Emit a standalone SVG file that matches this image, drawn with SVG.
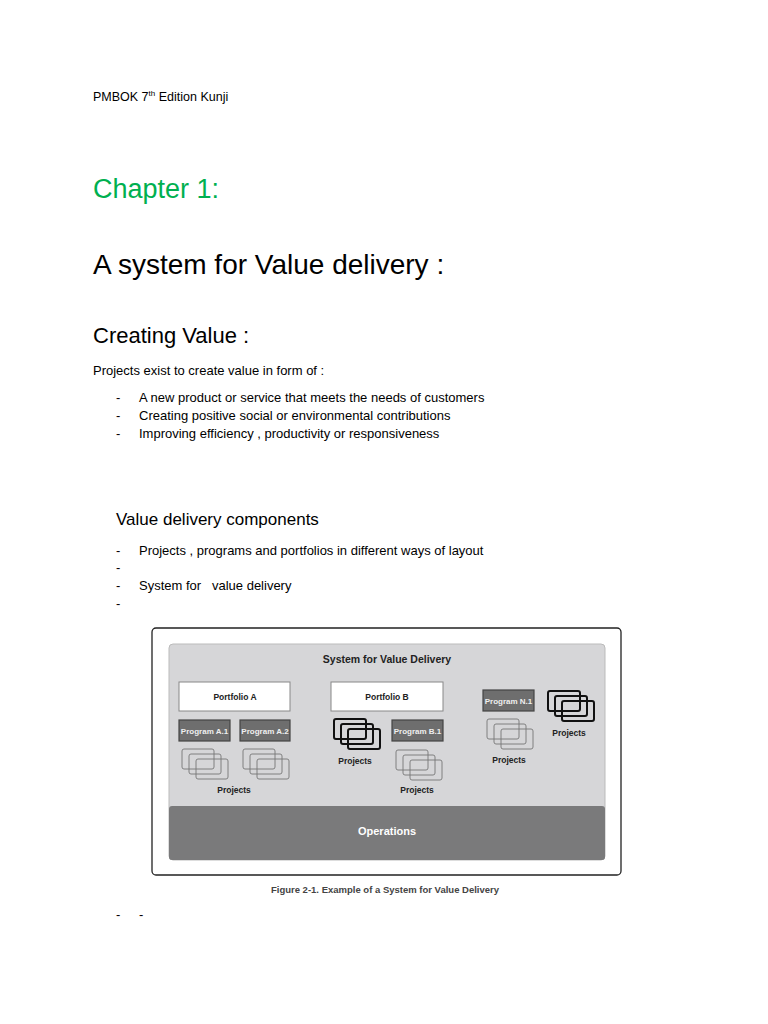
<svg xmlns="http://www.w3.org/2000/svg" xmlns:xlink="http://www.w3.org/1999/xlink" width="768" height="1024" viewBox="0 0 768 1024">
<style>
text{font-family:"Liberation Sans",Arial,sans-serif;fill:#000}
.b{font-size:13px}
.f{font-weight:bold;font-size:8.5px;fill:#222}
.pw{font-weight:bold;font-size:8px;fill:#eee}
.port{fill:#fff;stroke:#888;stroke-width:1}
.prog{fill:#6e6e6e;stroke:#444;stroke-width:1.2}
.thin{stroke:#777;stroke-width:0.9}
.bold{stroke:#111;stroke-width:2}
</style>
<defs>
<g id="stk" fill="none"><rect x="0" y="0" width="32" height="20" rx="2"/><rect x="7" y="5" width="32" height="20" rx="2"/><rect x="14" y="10" width="32" height="20" rx="2"/></g>
</defs>
<rect width="768" height="1024" fill="#fff"/>
<text x="93" y="101" style="font-size:12.5px">PMBOK 7<tspan dy="-5" font-size="8">th</tspan><tspan dy="5"> Edition Kunji</tspan></text>
<text x="93" y="198" style="font-size:27px;fill:#00b050">Chapter 1:</text>
<text x="93" y="274" style="font-size:28px">A system for Value delivery :</text>
<text x="93" y="343" style="font-size:22px">Creating Value :</text>
<text x="93" y="375" class="b">Projects exist to create value in form of :</text>
<text x="116" y="402" class="b">-</text><text x="139" y="402" class="b">A new product or service that meets the needs of customers</text>
<text x="116" y="420" class="b">-</text><text x="139" y="420" class="b">Creating positive social or environmental contributions</text>
<text x="116" y="438" class="b">-</text><text x="139" y="438" class="b">Improving efficiency , productivity or responsiveness</text>
<text x="116" y="525" style="font-size:17px">Value delivery components</text>
<text x="116" y="555" class="b">-</text><text x="139" y="555" class="b">Projects , programs and portfolios in different ways of layout</text>
<text x="116" y="572" class="b">-</text>
<text x="116" y="590" class="b">-</text><text x="139" y="590" class="b">System for &#160; value delivery</text>
<text x="116" y="608" class="b">-</text>
<text x="116" y="919" class="b">-</text><text x="139" y="919" class="b">-</text>

<g id="figure">
<rect x="152" y="628" width="469" height="247" rx="4" fill="#fff" stroke="#222" stroke-width="1.3"/>
<rect x="169" y="644" width="436" height="216" rx="4" fill="#d6d6d8" stroke="#bbb"/>
<text x="387" y="663" text-anchor="middle" style="font-weight:bold;font-size:10.5px;fill:#222">System for Value Delivery</text>
<g id="operations"><rect x="169" y="806" width="436" height="54" rx="3" fill="#7a7a7b"/>
<text x="387" y="835" text-anchor="middle" style="font-weight:bold;font-size:11px;fill:#fff">Operations</text></g>
<g id="portfolioA"><rect class="port" x="179" y="682" width="111" height="29"/><text class="f" x="235" y="700" text-anchor="middle">Portfolio A</text></g>
<g id="portfolioB"><rect class="port" x="331" y="682" width="112" height="29"/><text class="f" x="387" y="700" text-anchor="middle">Portfolio B</text></g>
<g id="progA1"><rect class="prog" x="179" y="720" width="51" height="21"/><text class="pw" x="204.5" y="734" text-anchor="middle">Program A.1</text></g>
<g id="progA2"><rect class="prog" x="240" y="720" width="50" height="21"/><text class="pw" x="265" y="734" text-anchor="middle">Program A.2</text></g>
<g id="progB1"><rect class="prog" x="392" y="720" width="51" height="21"/><text class="pw" x="417.5" y="734" text-anchor="middle">Program B.1</text></g>
<g id="progN1"><rect class="prog" x="483" y="690" width="51" height="21"/><text class="pw" x="508.5" y="704" text-anchor="middle">Program N.1</text></g>
<g class="thin"><use xlink:href="#stk" x="182" y="749"/><use xlink:href="#stk" x="243" y="749"/><use xlink:href="#stk" x="396" y="750"/><use xlink:href="#stk" x="487" y="719"/></g>
<g class="bold"><use xlink:href="#stk" x="334" y="719"/><use xlink:href="#stk" x="548" y="691"/></g>
<text class="f" x="234" y="793" text-anchor="middle">Projects</text>
<text class="f" x="417" y="793" text-anchor="middle">Projects</text>
<text class="f" x="355" y="764" text-anchor="middle">Projects</text>
<text class="f" x="509" y="763" text-anchor="middle">Projects</text>
<text class="f" x="569" y="736" text-anchor="middle">Projects</text>
</g>
<text x="385" y="893" text-anchor="middle" style="font-weight:bold;font-size:9.5px;fill:#444">Figure 2-1. Example of a System for Value Delivery</text>
</svg>
